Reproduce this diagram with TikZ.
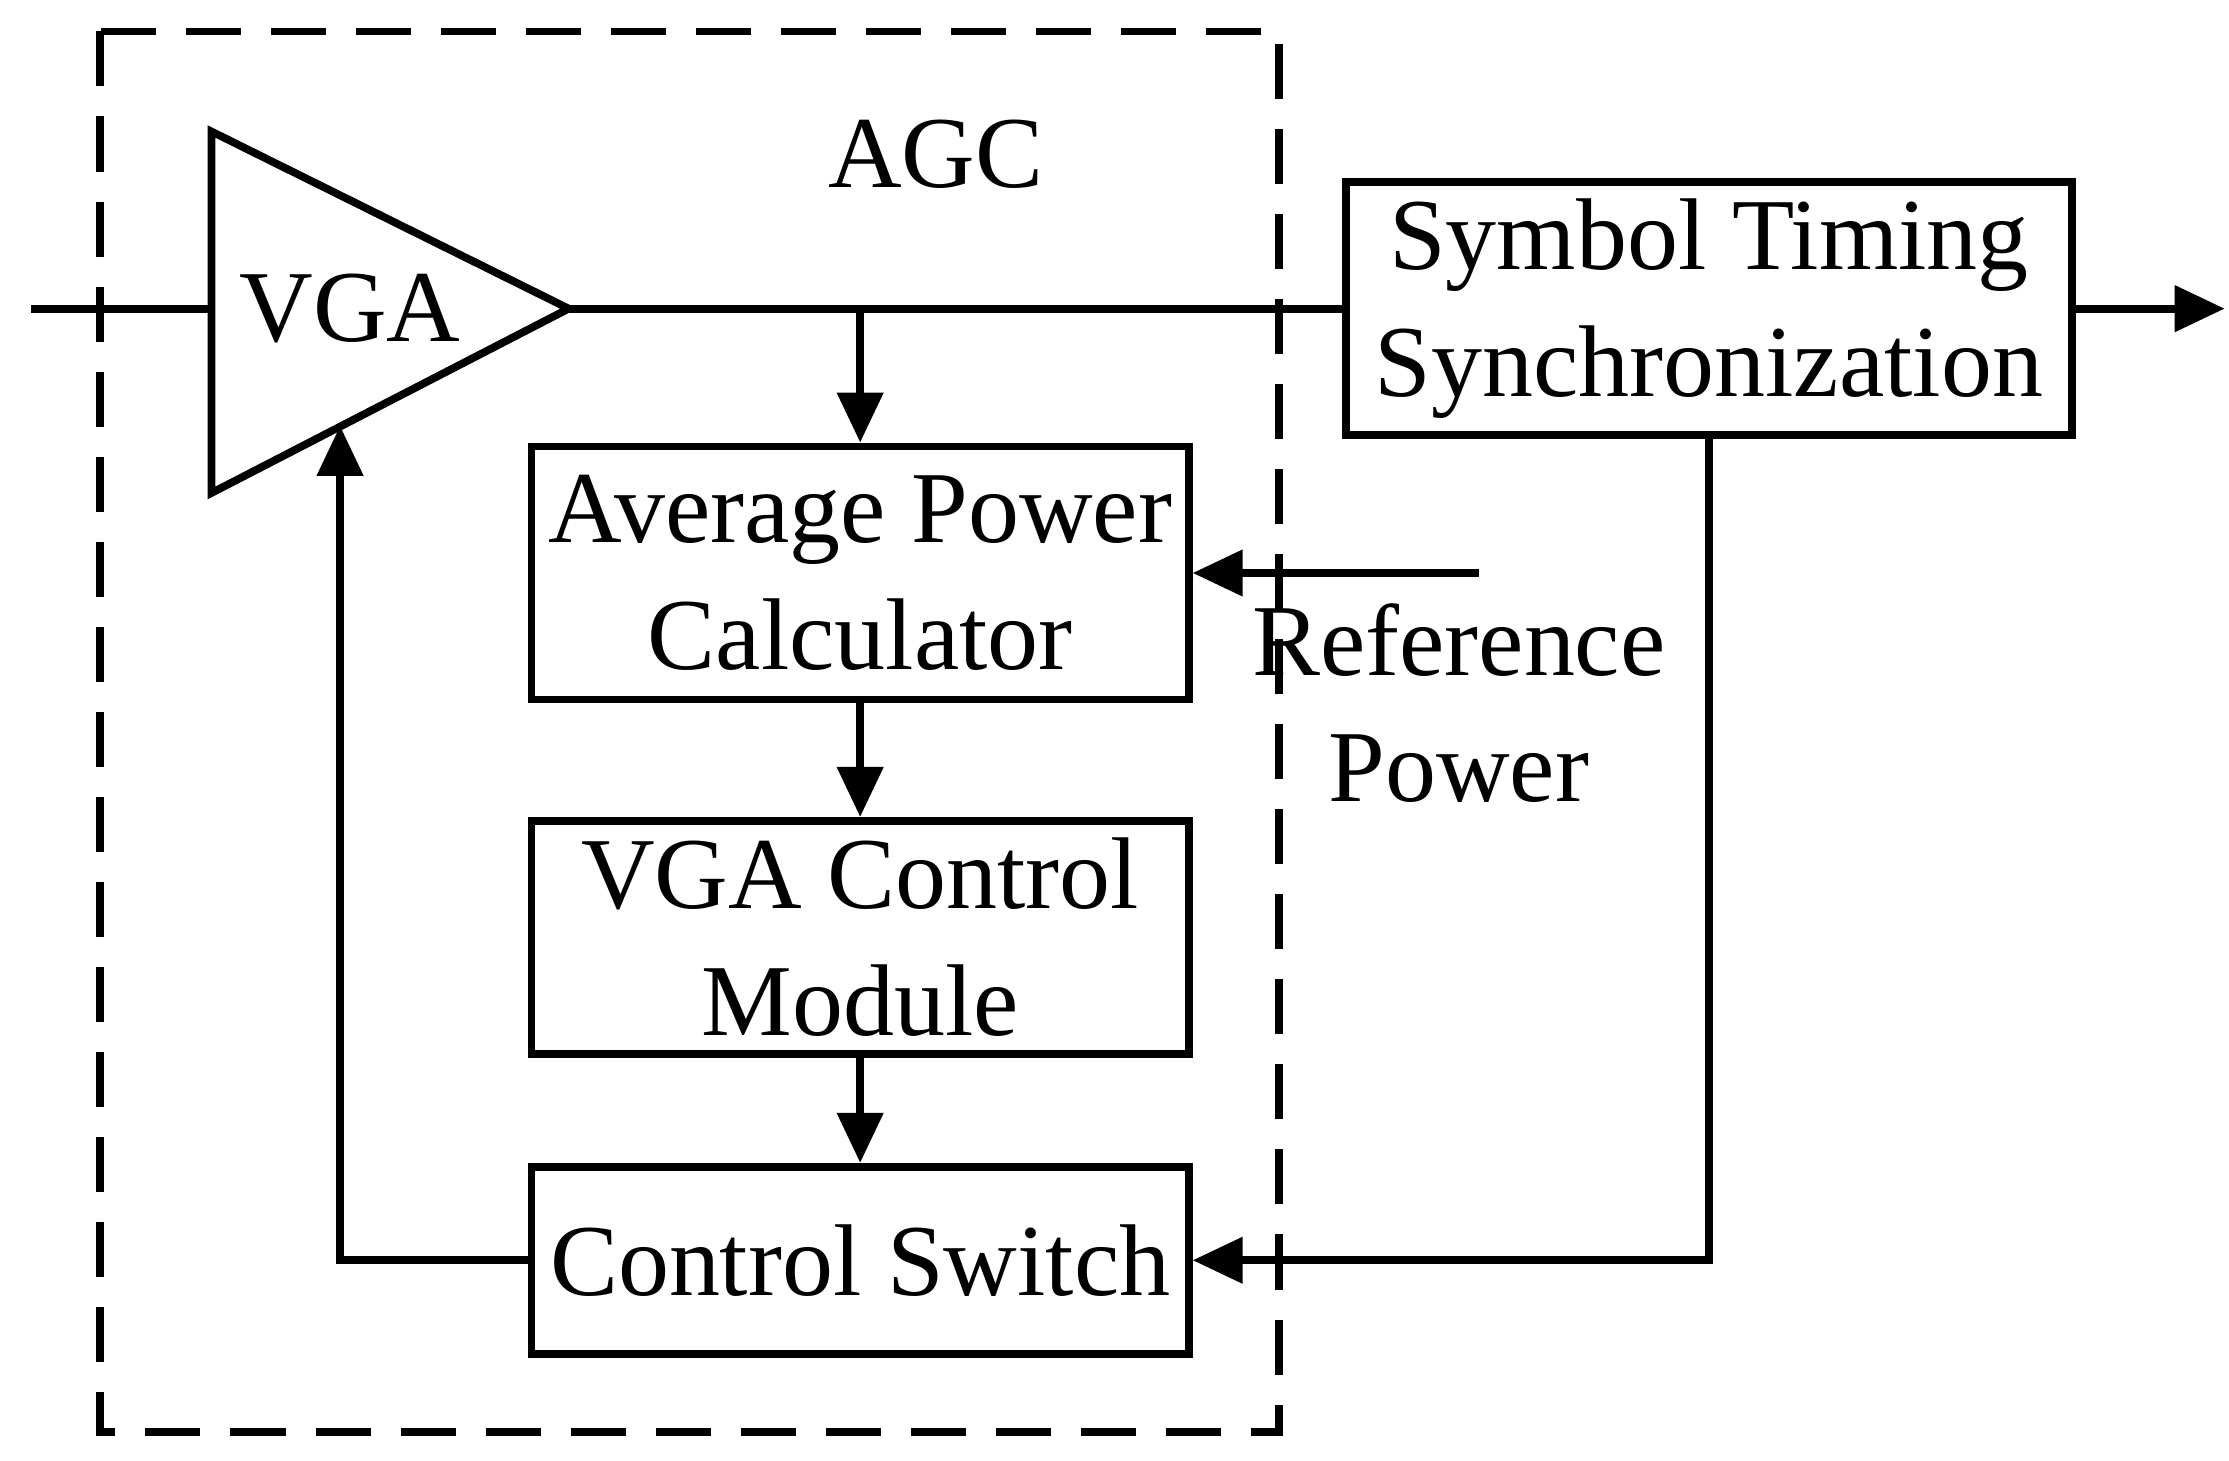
\documentclass[tikz,border=0pt]{standalone}
\usepackage{fontspec}
\setmainfont{Liberation Serif}
\usetikzlibrary{arrows.meta,positioning}
\begin{document}
\begin{tikzpicture}[
    x=0.014286cm, y=-0.014286cm,
    line width=2.2pt,
    font=\fontsize{29}{36}\selectfont,
    box/.style={rectangle, draw, line width=2.2pt, minimum width=6.57cm, align=center, inner sep=0pt},
    arr/.style={-{Triangle[length=0.5cm,width=0.45cm]}},
]
\useasboundingbox (0,0) rectangle (1560,1022);

% AGC frame
\draw[dash pattern=on 0.55cm off 0.3cm] (70,22) rectangle (895,1002);
\node at (655,108) {AGC};

% VGA amplifier
\draw (148,92) -- (398,216) -- (148,345) -- cycle;
\coordinate (vgaout) at (398,216);
\coordinate (vgain) at (148,216);
\coordinate (vgactl) at (238,298);
\coordinate (src) at (22,216);
\node at (245,216) {VGA};

% Blocks
\node[box, minimum height=2.53cm] (apc) at (602,401) {Average Power\\Calculator};
\node[box, minimum height=2.33cm] (ctrl) at (602,656) {VGA Control\\Module};
\node[box, minimum height=1.87cm] (switch) at (602,882) {Control Switch};
\node[box, minimum width=7.26cm, minimum height=2.53cm] (sync) at (1196,216) {Symbol Timing\\Synchronization};

% Signal path
\coordinate (tap) at (602,216);
\coordinate (out) at (1557,216);
\coordinate (refin) at (1035,401);
\draw (src) -- (vgain);
\draw (vgaout) -- (sync.west);
\draw[arr] (sync.east) -- (out);
\draw[arr] (tap) -- (apc.north);
\draw[arr] (apc) -- (ctrl);
\draw[arr] (ctrl) -- (switch);
\draw[arr] (refin) -- (apc.east);
\node[align=center, below=0.15cm of refin, xshift=-0.2cm] (reflabel) {Reference\\Power};

% Feedback
\draw[arr] (sync.south) |- (switch.east);
\draw[arr] (switch.west) -| (vgactl);

\end{tikzpicture}
\end{document}
